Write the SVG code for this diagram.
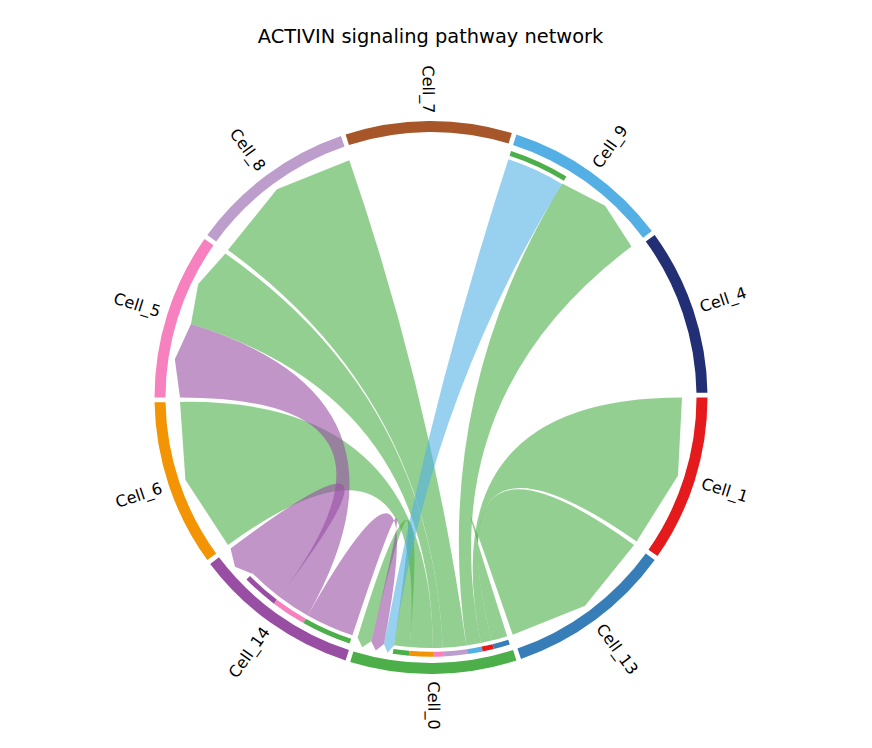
<svg xmlns="http://www.w3.org/2000/svg" width="872" height="748" viewBox="0 0 872 748">
<style>
.ring{fill:none;stroke-width:11}
.bar{fill:none;stroke-width:5}
.g{fill:#4DAF4A;fill-opacity:0.6}
.p{fill:#984EA3;fill-opacity:0.6}
.b{fill:#54B0E4;fill-opacity:0.6}
.lbl{font-family:"DejaVu Sans","Liberation Sans",sans-serif;font-size:16px;fill:#000;dominant-baseline:central}
.title{font-family:"DejaVu Sans","Liberation Sans",sans-serif;font-size:19.4px;fill:#000;text-anchor:middle}
</style>
<rect width="872" height="748" fill="#fff"/>
<text class="title" x="430.5" y="43">ACTIVIN signaling pathway network</text>

<g id="connectors">
<path class="g" d="M 393.97 645.25 A 250.5 250.5 0 0 0 409.60 647.09 Q 431 397.5 357.62 637.53 L 362.22 647.20 L 371.13 641.25 Q 431 397.5 393.97 645.25 Z"/>
<path class="g" d="M 409.60 647.09 A 250.5 250.5 0 0 0 432.97 647.99 Q 431 397.5 180.04 401.88 L 185.39 479.68 L 227.94 545.04 Q 431 397.5 409.60 647.09 Z"/>
<path class="g" d="M 432.97 647.99 A 250.5 250.5 0 0 0 442.80 647.72 Q 431 397.5 225.39 253.53 L 198.21 283.96 L 190.97 324.12 Q 431 397.5 432.97 647.99 Z"/>
<path class="g" d="M 442.80 647.72 A 250.5 250.5 0 0 0 466.30 645.50 Q 431 397.5 349.28 160.17 L 276.94 189.30 L 227.94 249.96 Q 431 397.5 442.80 647.72 Z"/>
<path class="g" d="M 466.30 645.50 A 250.5 250.5 0 0 0 480.94 642.97 Q 431 397.5 631.46 246.44 L 605.14 205.78 L 562.15 183.49 Q 431 397.5 466.30 645.50 Z"/>
<path class="g" d="M 480.94 642.97 A 250.5 250.5 0 0 0 491.60 640.56 Q 431 397.5 636.61 541.47 L 678.01 475.38 L 682 397.5 Q 431 397.5 480.94 642.97 Z"/>
<path class="g" d="M 491.60 640.56 A 250.5 250.5 0 0 0 507.16 636.14 Q 431 397.5 512.72 634.83 L 585.06 605.70 L 634.06 545.04 Q 431 397.5 491.60 640.56 Z"/>
<path class="b" d="M 561.89 183.91 A 250.5 250.5 0 0 0 508.41 159.26 Q 431 397.5 383.97 644.05 L 387.58 652.84 L 393.90 645.74 Q 431 397.5 561.89 183.91 Z"/>
<path class="p" d="M 307.65 615.53 A 250.5 250.5 0 0 0 352.35 635.33 Q 431 397.5 371.13 641.25 L 375.83 650.56 L 383.97 644.05 Q 431 397.5 307.65 615.53 Z"/>
<path class="p" d="M 279.20 596.77 A 250.5 250.5 0 0 0 307.65 615.53 Q 431 397.5 190.97 324.12 L 174.84 359.22 L 180.00 397.5 Q 431 397.5 279.20 596.77 Z"/>
<path class="p" d="M 252.64 573.39 A 250.5 250.5 0 0 0 279.20 596.77 Q 431 397.5 230.54 548.56 L 234.94 566.74 L 252.28 573.74 Q 431 397.5 252.64 573.39 Z"/>
</g>

<g id="Cell_4">
<path class="ring" stroke="#222F75" d="M 701.96 392.77 A 271 271 0 0 0 650.24 238.21"/>
<text class="lbl" transform="translate(700.32 307.39) rotate(-18.5)">Cell_4</text>
</g>
<g id="Cell_9">
<path class="ring" stroke="#54B0E4" d="M 647.43 234.41 A 271 271 0 0 0 514.74 139.76"/>
<path class="bar" stroke="#4DAF4A" d="M 565.13 178.63 A 256.7 256.7 0 0 0 510.33 153.36"/>
<text class="lbl" transform="translate(595.92 166.29) rotate(-54.5)">Cell_9</text>
</g>
<g id="Cell_7">
<path class="ring" stroke="#A65628" d="M 510.23 138.34 A 271 271 0 0 0 347.26 139.76"/>
<text class="lbl" text-anchor="end" transform="translate(428.52 113.51) rotate(89.5)">Cell_7</text>
</g>
<g id="Cell_8">
<path class="ring" stroke="#BC9DCC" d="M 342.77 141.26 A 271 271 0 0 0 211.76 238.21"/>
<text class="lbl" text-anchor="end" transform="translate(262.07 169.20) rotate(53.5)">Cell_8</text>
</g>
<g id="Cell_5">
<path class="ring" stroke="#F781BF" d="M 209.01 242.06 A 271 271 0 0 0 160 397.5"/>
<text class="lbl" text-anchor="end" transform="translate(160.14 312.10) rotate(17.5)">Cell_5</text>
</g>
<g id="Cell_6">
<path class="ring" stroke="#F29403" d="M 160.04 402.23 A 271 271 0 0 0 211.76 556.79"/>
<text class="lbl" text-anchor="end" transform="translate(161.68 487.61) rotate(-18.5)">Cell_6</text>
</g>
<g id="Cell_14">
<path class="ring" stroke="#984EA3" d="M 214.57 560.59 A 271 271 0 0 0 347.26 655.24"/>
<path class="bar" stroke="#984EA3" d="M 248.22 577.74 A 256.7 256.7 0 0 0 275.44 601.70"/>
<path class="bar" stroke="#F781BF" d="M 275.44 601.70 A 256.7 256.7 0 0 0 304.60 620.92"/>
<path class="bar" stroke="#4DAF4A" d="M 304.60 620.92 A 256.7 256.7 0 0 0 350.40 641.22"/>
<text class="lbl" text-anchor="end" transform="translate(266.08 628.71) rotate(-54.5)">Cell_14</text>
</g>
<g id="Cell_0">
<path class="ring" stroke="#4DAF4A" d="M 351.77 656.66 A 271 271 0 0 0 514.74 655.24"/>
<path class="bar" stroke="#4DAF4A" d="M 393.06 651.38 A 256.7 256.7 0 0 0 409.07 653.26"/>
<path class="bar" stroke="#F29403" d="M 409.07 653.26 A 256.7 256.7 0 0 0 433.02 654.19"/>
<path class="bar" stroke="#F781BF" d="M 433.02 654.19 A 256.7 256.7 0 0 0 443.09 653.92"/>
<path class="bar" stroke="#BC9DCC" d="M 443.09 653.92 A 256.7 256.7 0 0 0 467.17 651.64"/>
<path class="bar" stroke="#54B0E4" d="M 467.17 651.64 A 256.7 256.7 0 0 0 482.18 649.05"/>
<path class="bar" stroke="#E41A1C" d="M 482.18 649.05 A 256.7 256.7 0 0 0 493.10 646.58"/>
<path class="bar" stroke="#377EB8" d="M 493.10 646.58 A 256.7 256.7 0 0 0 509.04 642.05"/>
<text class="lbl" transform="translate(433.48 681.49) rotate(89.5)">Cell_0</text>
</g>
<g id="Cell_13">
<path class="ring" stroke="#377EB8" d="M 519.23 653.74 A 271 271 0 0 0 650.24 556.79"/>
<text class="lbl" transform="translate(599.93 625.80) rotate(53.5)">Cell_13</text>
</g>
<g id="Cell_1">
<path class="ring" stroke="#E41A1C" d="M 652.99 552.94 A 271 271 0 0 0 702 397.5"/>
<text class="lbl" transform="translate(701.86 482.90) rotate(17.5)">Cell_1</text>
</g>
</svg>
